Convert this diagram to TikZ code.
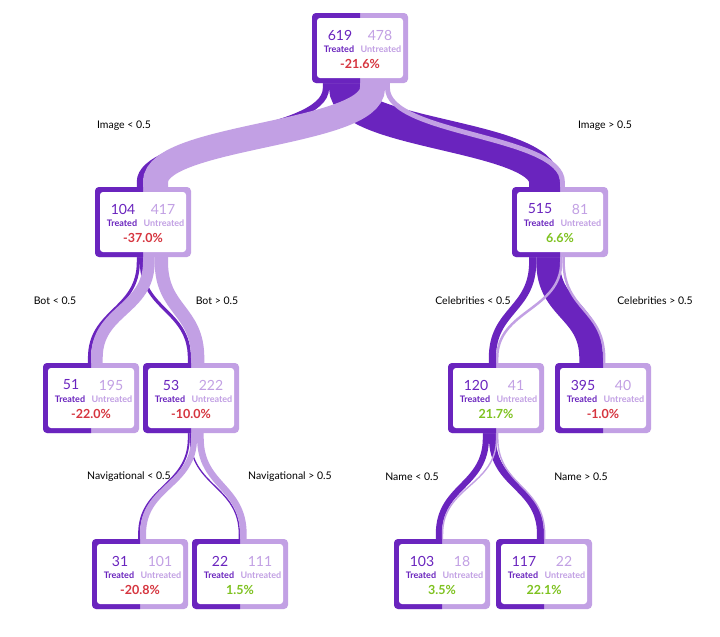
\documentclass[tikz,border=0pt]{standalone}
\usepackage{fontspec}
\setmainfont{Lato}
\definecolor{dk}{HTML}{6A24BE}
\definecolor{lt}{HTML}{C2A0E4}
\definecolor{neg}{HTML}{D6353F}
\definecolor{pos}{HTML}{7EC21F}
\newcommand\rib[5]{\draw[line width=#5, line cap=butt] (#1,#2) -- (#1,#2+40) .. controls (#1,{(#2+#4)/2}) and (#3,{(#2+#4)/2}) .. (#3,#4-40) -- (#3,#4);}
\newcommand\tbox[7]{%
  \fill[lt, rounded corners=4pt] (#2-48,#3-35) rectangle (#2+48,#3+35);
  \begin{scope}\clip (#2-49,#3-36) rectangle (#2,#3+36);
  \fill[dk, rounded corners=4pt] (#2-48,#3-35) rectangle (#2+48,#3+35);\end{scope}
  \node[fill=white, rounded corners=3pt, minimum width=86pt, minimum height=60pt, inner sep=0pt] (#1) at (#2,#3) {};
  \node[cnt, text=dk] at (#2-20,#3-13) {#4};
  \node[cnt, text=lt] at (#2+20,#3-13) {#5};
  \node[sub, text=dk] at (#2-21,#3+1) {Treated};
  \node[sub, text=lt] at (#2+21,#3+1) {Untreated};
  \node[pct, text=#7] at (#2,#3+16) {#6};}
\tikzset{
  cnt/.style={font=\fontsize{14}{14}\selectfont, inner sep=0pt},
  sub/.style={font=\fontsize{9}{9}\selectfont\bfseries, inner sep=0pt},
  pct/.style={font=\fontsize{12.5}{12.5}\selectfont\bfseries, inner sep=0pt},
  lbl/.style={font=\fontsize{10.5}{11}\selectfont, inner sep=0pt}
}
\begin{document}
\begin{tikzpicture}[x=1pt,y=-1pt]
\useasboundingbox[fill=white] (0,0) rectangle (720,637);
\begin{scope}[dk]
\rib{325.98}{48}{139.88}{222}{6.24pt}
\rib{344.55}{48}{544.55}{222}{30.9pt}
\rib{138.29}{222}{89.47}{398}{3.06pt}
\rib{141.41}{222}{189.41}{398}{3.18pt}
\rib{532.7}{222}{492.4}{398}{7.2pt}
\rib{548.15}{222}{591.15}{398}{23.7pt}
\rib{188.75}{398}{139.07}{574}{1.86pt}
\rib{190.34}{398}{239.34}{574}{1.32pt}
\rib{485.89}{398}{438.91}{574}{6.18pt}
\rib{492.49}{398}{540.49}{574}{7.02pt}
\end{scope}
\begin{scope}[lt]
\rib{372.51}{48}{155.51}{222}{25.02pt}
\rib{387.45}{48}{562.43}{222}{4.86pt}
\rib{148.85}{222}{96.85}{398}{11.7pt}
\rib{161.36}{222}{197.66}{398}{13.32pt}
\rib{561.23}{222}{497.23}{398}{2.46pt}
\rib{563.66}{222}{604.2}{398}{2.4pt}
\rib{194.03}{398}{143.03}{574}{6.06pt}
\rib{200.39}{398}{243.33}{574}{6.66pt}
\rib{496.54}{398}{442.54}{574}{1.4pt}
\rib{497.74}{398}{544.66}{574}{1.4pt}
\end{scope}
\tbox{root}{360}{48}{619}{478}{-21.6\%}{neg}
\tbox{a}{143}{222}{104}{417}{-37.0\%}{neg}
\tbox{b}{560}{222}{515}{81}{6.6\%}{pos}
\tbox{a1}{91}{398}{51}{195}{-22.0\%}{neg}
\tbox{a2}{191}{398}{53}{222}{-10.0\%}{neg}
\tbox{b1}{496}{398}{120}{41}{21.7\%}{pos}
\tbox{b2}{603}{398}{395}{40}{-1.0\%}{neg}
\tbox{a21}{140}{574}{31}{101}{-20.8\%}{neg}
\tbox{a22}{240}{574}{22}{111}{1.5\%}{pos}
\tbox{b11}{442}{574}{103}{18}{3.5\%}{pos}
\tbox{b12}{544}{574}{117}{22}{22.1\%}{pos}
\node[lbl] (l1) at (124,126) {Image < 0.5};
\node[lbl] (l2) at (605,126) {Image > 0.5};
\node[lbl] (l3) at (55,301) {Bot < 0.5};
\node[lbl] (l4) at (217,301) {Bot > 0.5};
\node[lbl] (l5) at (473,301) {Celebrities < 0.5};
\node[lbl] (l6) at (655,301) {Celebrities > 0.5};
\node[lbl] (l7) at (129,477) {Navigational < 0.5};
\node[lbl] (l8) at (290,477) {Navigational > 0.5};
\node[lbl] (l9) at (412,477) {Name < 0.5};
\node[lbl] (l10) at (581,477) {Name > 0.5};
\end{tikzpicture}
\end{document}
